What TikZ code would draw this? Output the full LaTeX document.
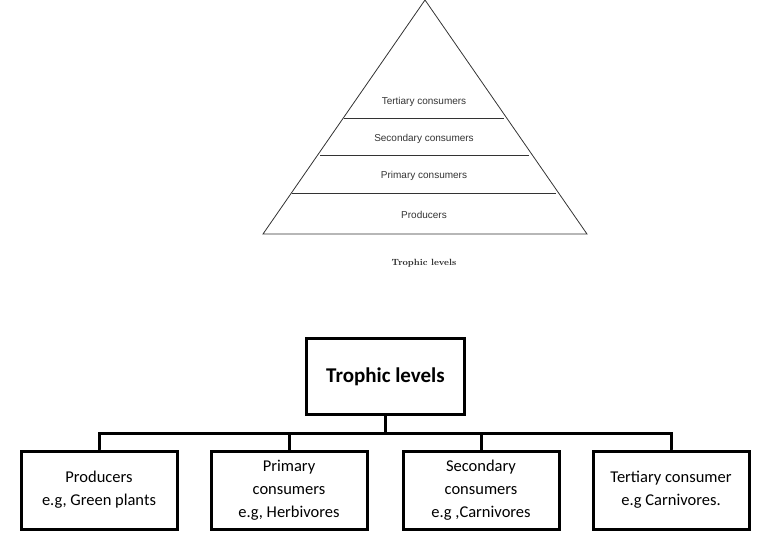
\documentclass[tikz,border=0pt]{standalone}
\usepackage{fontspec}
\newfontfamily\carfont{Carlito}
\newfontfamily\arsfont{Liberation Sans}
\begin{document}
\begin{tikzpicture}[x=1pt,y=-1pt,
 pyr/.style={line width=0.8pt,black!80},
 pl/.style={font=\arsfont\fontsize{10}{11}\selectfont,text=black!80},
 box/.style={draw,line width=3pt,minimum width=156pt,minimum height=78pt,align=center,font=\carfont\fontsize{16.5}{23}\selectfont,inner sep=1pt},
 conn/.style={line width=3pt}]
\useasboundingbox (0,0) rectangle (768,543);
% pyramid
\coordinate (apex) at (425,0);
\coordinate (bl) at (263,234);
\coordinate (br) at (587,234);
\draw[pyr] (apex) -- (bl) -- (br) -- cycle;
\draw[pyr] (344,118) -- (504,118);
\draw[pyr] (320,155) -- (529,155);
\draw[pyr] (292,193) -- (556,193);
\node[pl] (t1) at (424,102) {Tertiary consumers};
\node[pl] (t2) at (424,139) {Secondary consumers};
\node[pl] (t3) at (424,176) {Primary consumers};
\node[pl] (t4) at (424,215) {Producers};
\node[font=\bfseries\fontsize{9}{10}\selectfont,text=black!85] (tl) at (424,263) {Trophic levels};
% chart
\node[box,minimum width=158pt,minimum height=76pt,font=\carfont\bfseries\fontsize{21}{24}\selectfont] (top) at (385.5,376.5) {Trophic levels};
\node[box] (b1) at (99,490) {Producers\\e.g, Green plants};
\node[box] (b2) at (289,490) {Primary\\consumers\\e.g, Herbivores};
\node[box] (b3) at (481,490) {Secondary\\consumers\\e.g ,Carnivores};
\node[box] (b4) at (671,490) {Tertiary consumer\\e.g Carnivores.};
\coordinate (bar) at (385.5,433);
\draw[conn] (top.south) -- (bar);
\draw[conn,line cap=round] (b1.north) -- (b1.north |- bar) -- (b4.north |- bar) -- (b4.north);
\draw[conn] (b2.north) -- (b2.north |- bar);
\draw[conn] (b3.north) -- (b3.north |- bar);
\end{tikzpicture}
\end{document}
